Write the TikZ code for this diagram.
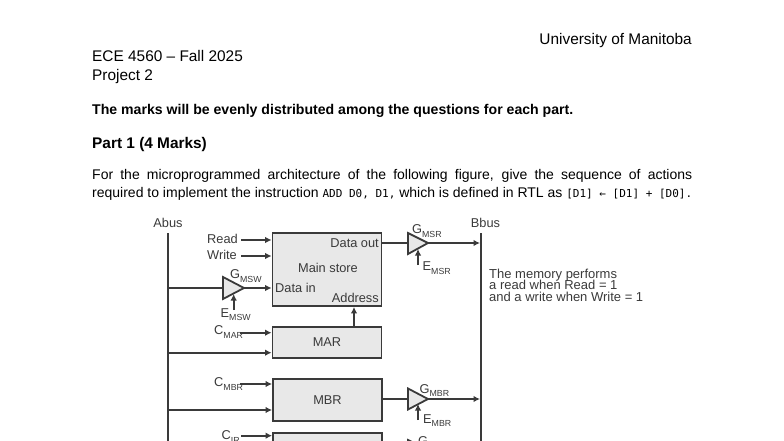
\documentclass[tikz,border=0pt]{standalone}
\usepackage{fontspec}
\setmainfont{Liberation Sans}
\newfontfamily\codefont{DejaVu Sans Mono}
\usetikzlibrary{arrows.meta}
\definecolor{ink}{HTML}{3A3A3A}
\definecolor{boxfill}{HTML}{E8E8E8}
\tikzset{
  doc/.style={anchor=base west,inner sep=0pt,text=black,font=\fontsize{15.4}{15.4}\selectfont},
  docb/.style={doc,font=\fontsize{14.1}{14.1}\selectfont\bfseries},
  body/.style={doc,font=\fontsize{14}{14}\selectfont},
  lab/.style={inner sep=0pt,text=ink,font=\fontsize{12.8}{12.8}\selectfont},
  regbox/.style={draw=ink,fill=boxfill,line width=1.8pt,inner sep=0pt,text=ink,font=\fontsize{12.8}{12.8}\selectfont},
  wire/.style={draw=ink,line width=1.8pt},
  arr/.style={wire,-{Latex[length=6.5pt,width=6.5pt]}},
  bus/.style={draw=ink,line width=2pt},
  buf/.style={draw=ink,fill=boxfill,line width=1.8pt,line join=miter}
}
\newcommand{\sbs}[2]{#1\raisebox{-3.5pt}{\fontsize{8.8}{8.8}\selectfont #2}}
\begin{document}
\begin{tikzpicture}[x=1pt,y=-1pt]
\useasboundingbox (0,0) rectangle (784,441);
\node[doc,anchor=base east] (uni) at (692,45) {University of Manitoba};
\node[doc] (course) at (92,62) {ECE 4560 – Fall 2025};
\node[doc] (proj) at (92,81) {Project 2};
\node[docb] (marks) at (92,114) {The marks will be evenly distributed among the questions for each part.};
\node[doc,font=\fontsize{15.4}{15.4}\selectfont\bfseries] (part) at (92,148) {Part 1 (4 Marks)};
\node[body] (l1) at (92,179) {\makebox[600pt][s]{For the microprogrammed architecture of the following figure, give the sequence of actions}};
\node[body] (l2) at (92,197) {\makebox[600pt][s]{required to implement the instruction {\codefont\fontsize{11}{11}\selectfont ADD D0, D1,} which is defined in RTL as {\codefont\fontsize{11}{11}\selectfont [D1] ← [D1] + [D0].}}};
% buses
\node[lab] (abus) at (168,223) {Abus};
\node[lab] (bbus) at (485.500,223) {Bbus};
\coordinate (atop) at (168,233); \coordinate (abot) at (168,441);
\coordinate (btop) at (480.500,233); \coordinate (bbot) at (480.500,441);
\draw[bus] (atop) -- (abot);
\draw[bus] (btop) -- (bbot);
% boxes
\node[regbox,minimum width=109pt,minimum height=73pt] (ms) at (327,269.500) {};
\node[regbox,minimum width=109pt,minimum height=31pt] (mar) at (327,342.500) {\raisebox{-1pt}{MAR}};
\node[regbox,minimum width=109pt,minimum height=42pt] (mbr) at (327.500,399.700) {\raisebox{-.5pt}{MBR}};
\node[regbox,anchor=north,minimum width=109pt,minimum height=30pt] (ir) at (327.500,431.700) {};
\node[lab,anchor=east] (dout) at (379,243.500) {Data out};
\node[lab] (mst) at (328,268) {Main store};
\node[lab,anchor=west] (din) at (275,287.500) {Data in};
\node[lab,anchor=east] (addr) at (379,297.500) {Address};
% left inputs
\node[lab,anchor=east] (read) at (238,239) {Read};
\node[lab,anchor=east] (write) at (237,254.500) {Write};
\coordinate (rs) at (241,240); \coordinate (ws) at (241,256);
\draw[arr] (rs) -- (ms.west |- rs);
\draw[arr] (ws) -- (ms.west |- ws);
% GMSW
\coordinate (gw) at (168,288);
\coordinate (gwin) at (223,288);
\coordinate (gwout) at (244,288);
\draw[wire] (gw) -- (gwin);
\draw[buf] (223,277) -- (gwout) -- (223,299) -- cycle;
\draw[arr] (gwout) -- (ms.west |- gwout);
\node[lab,anchor=west] (gmsw) at (230,276) {\sbs{G}{MSW}};
\coordinate (emswb) at (233.700,310);
\coordinate (emswt) at (233.700,294);
\draw[arr] (emswb) -- (emswt);
\node[lab,anchor=west] (emsw) at (220.500,314.500) {\sbs{E}{MSW}};
% MAR
\node[lab,anchor=west] (cmar) at (214,332) {\sbs{C}{MAR}};
\coordinate (cmars) at (240,332.700);
\draw[arr] (cmars) -- (mar.west |- cmars);
\coordinate (am) at (168,352.700);
\draw[arr] (am) -- (mar.west |- am);
\draw[arr] (mar.north -| 354,0) -- (ms.south -| 354,0);
% MBR
\node[lab,anchor=west] (cmbr) at (214,384) {\sbs{C}{MBR}};
\coordinate (cmbrs) at (240,384);
\draw[arr] (cmbrs) -- (mbr.west |- cmbrs);
\coordinate (ab) at (168,410);
\draw[arr] (ab) -- (mbr.west |- ab);
% IR
\node[lab,anchor=west] (cir) at (221.500,437) {\sbs{C}{IR}};
\coordinate (cirs) at (241,435.700);
\draw[arr] (cirs) -- (ir.west |- cirs);
% right out
\coordinate (oms) at (408,243);
\coordinate (omsout) at (428,243);
\coordinate (bms) at (480,243);
\draw[wire] (ms.east |- oms) -- (oms);
\draw[buf] (408,233) -- (omsout) -- (408,254) -- cycle;
\draw[arr] (omsout) -- (bms);
\node[lab,anchor=west] (gmsr) at (412,231) {\sbs{G}{MSR}};
\draw[arr] (418,265) -- (418,249);
\node[lab,anchor=west] (emsr) at (422.500,268) {\sbs{E}{MSR}};
\coordinate (omb) at (408,399);
\coordinate (ombout) at (428,399);
\coordinate (bmb) at (480,399);
\draw[wire] (mbr.east |- omb) -- (omb);
\draw[buf] (408,388.500) -- (ombout) -- (408,409.500) -- cycle;
\draw[arr] (ombout) -- (bmb);
\node[lab,anchor=west] (gmbr) at (419.500,390.500) {\sbs{G}{MBR}};
\draw[arr] (418,420) -- (418,404);
\node[lab,anchor=west] (embr) at (423,420.500) {\sbs{E}{MBR}};
% clipped at the page edge
\draw[buf] (408,440) -- (428,450) -- (408,461) -- cycle;
\node[lab,anchor=west] (gir) at (418,443) {\sbs{G}{IR}};
\node[lab,anchor=base west,inner sep=0pt] (note1) at (489,278) {\fontsize{13}{13}\selectfont The memory performs};
\node[lab,anchor=base west,inner sep=0pt] (note2) at (489,289.600) {\fontsize{13}{13}\selectfont a read when Read = 1};
\node[lab,anchor=base west,inner sep=0pt] (note3) at (489,301) {\fontsize{13}{13}\selectfont and a write when Write = 1};
\end{tikzpicture}
\end{document}
